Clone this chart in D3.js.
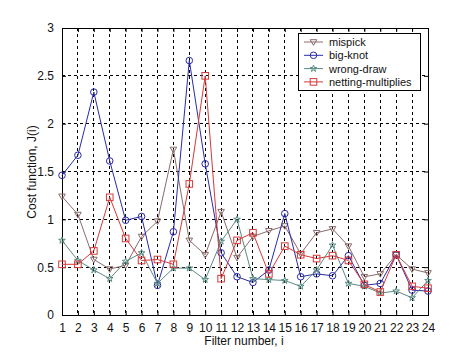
<!DOCTYPE html>
<html><head><meta charset="utf-8">
<script src="https://cdn.jsdelivr.net/npm/d3@7"></script>
<style>body{margin:0;background:#fff}svg{display:block}text{font-family:"Liberation Sans",Arial,sans-serif}</style>
</head><body>
<svg id="c" width="474" height="356"></svg>
<script>
const filters = d3.range(1, 25);
const seriesNames = ["mispick", "big-knot", "wrong-draw", "netting-multiplies"];
const mispick = [1.24,1.05,0.58,0.48,0.52,0.82,0.98,1.73,0.78,0.63,1.08,0.60,0.82,0.88,0.93,0.64,0.86,0.90,0.72,0.40,0.43,0.63,0.48,0.44];
const bigKnot = [1.46,1.67,2.33,1.61,0.99,1.03,0.31,0.87,2.66,1.58,0.65,0.40,0.34,0.47,1.06,0.40,0.43,0.41,0.62,0.31,0.33,0.63,0.26,0.25];
const wrongDraw = [0.78,0.57,0.47,0.38,0.56,0.65,0.33,0.49,0.49,0.37,0.77,1.00,0.38,0.37,0.36,0.30,0.47,0.73,0.33,0.30,0.23,0.25,0.18,0.36];
const netting = [0.53,0.53,0.67,1.23,0.80,0.57,0.58,0.53,1.37,2.50,0.38,0.78,0.86,0.43,0.72,0.63,0.59,0.62,0.57,0.32,0.24,0.63,0.30,0.28];
const yTicks = [0, 0.5, 1, 1.5, 2, 2.5, 3];
const yTickLabels = ["0", "0.5", "1", "1.5", "2", "2.5", "3"];
const xLabel = "Filter number, i";
const yLabel = "Cost function, J(i)";

const series = [
  {name: seriesNames[0], values: mispick, color: "#8a6b6b", marker: "tri"},
  {name: seriesNames[1], values: bigKnot, color: "#2a2aa8", marker: "circle"},
  {name: seriesNames[2], values: wrongDraw, color: "#5b8c84", marker: "star"},
  {name: seriesNames[3], values: netting, color: "#d43a3a", marker: "square"}
];

const svg = d3.select("#c");
const L = 62, R = 428, T = 28, B = 315;
const x = d3.scaleLinear().domain([1, 24]).range([L, R]);
const y = d3.scaleLinear().domain([0, 3]).range([B, T]);

// grid
const g = svg.append("g");
g.selectAll(".gx").data(filters.slice(1, -1)).join("line")
  .attr("x1", d => x(d)).attr("x2", d => x(d)).attr("y1", T).attr("y2", B)
  .attr("stroke", "#000").attr("stroke-width", 1).attr("stroke-dasharray", "3,3").attr("shape-rendering","crispEdges");
g.selectAll(".gy").data(yTicks.slice(1, -1)).join("line")
  .attr("y1", d => y(d)).attr("y2", d => y(d)).attr("x1", L).attr("x2", R)
  .attr("stroke", "#000").attr("stroke-width", 1).attr("stroke-dasharray", "3,3").attr("shape-rendering","crispEdges");

// axes
const axL = d3.axisLeft(y).tickValues(yTicks).tickFormat((d, i) => yTickLabels[i]).tickSizeInner(-4).tickSizeOuter(0).tickPadding(8);
const axB = d3.axisBottom(x).tickValues(filters).tickFormat(d3.format("d")).tickSizeInner(-4).tickSizeOuter(0).tickPadding(8);
const axR = d3.axisRight(y).tickValues(yTicks).tickFormat("").tickSizeInner(-4).tickSizeOuter(0);
const axT = d3.axisTop(x).tickValues(filters).tickFormat("").tickSizeInner(-4).tickSizeOuter(0);
[[axL, `translate(${L},0)`], [axB, `translate(0,${B})`], [axR, `translate(${R},0)`], [axT, `translate(0,${T})`]].forEach(([a, t]) => {
  const ga = svg.append("g").attr("transform", t).call(a);
  ga.selectAll("text").attr("font-size", 12).attr("fill", "#111").style("font-family", '"Liberation Sans",Arial,sans-serif');
  ga.selectAll("line,path").attr("stroke", "#000");
  ga.select(".domain").remove();
});
svg.append("rect").attr("x", L).attr("y", T).attr("width", R - L).attr("height", B - T)
  .attr("fill", "none").attr("stroke", "#000").attr("stroke-width", 1).attr("shape-rendering","crispEdges");

function drawMarker(sel, m, color) {
  if (m === "circle") sel.append("circle").attr("r", 3.3).attr("fill", "none").attr("stroke", color);
  else if (m === "square") sel.append("rect").attr("x", -3.3).attr("y", -3.3).attr("width", 6.6).attr("height", 6.6).attr("fill", "none").attr("stroke", color);
  else if (m === "tri") sel.append("path").attr("d", "M-3.3,-2.3L3.3,-2.3L0,3.3Z").attr("fill", "none").attr("stroke", color);
  else if (m === "star") sel.append("path").attr("d", d3.symbol(d3.symbolStar, 14)()).attr("fill", "none").attr("stroke", color);
}

const line = d3.line().x((d, i) => x(filters[i])).y(d => y(d));
series.forEach(s => {
  svg.append("path").datum(s.values).attr("d", line).attr("fill", "none").attr("stroke", s.color).attr("stroke-width", 1);
  s.values.forEach((v, i) => {
    const mg = svg.append("g").attr("transform", `translate(${x(filters[i])},${y(v)})`);
    drawMarker(mg, s.marker, s.color);
  });
});

// legend
const lg = svg.append("g");
lg.append("rect").attr("x", 298).attr("y", 33).attr("width", 122).attr("height", 57)
  .attr("fill", "#fff").attr("stroke", "#000").attr("shape-rendering","crispEdges");
series.forEach((s, i) => {
  const yy = 42 + i * 13.3;
  lg.append("line").attr("x1", 304).attr("x2", 323).attr("y1", yy).attr("y2", yy).attr("stroke", s.color);
  drawMarker(lg.append("g").attr("transform", `translate(313.5,${yy})`), s.marker, s.color);
  lg.append("text").attr("x", 329).attr("y", yy + 4).attr("font-size", 11).attr("fill", "#111").text(s.name);
});

svg.append("text").attr("x", 244).attr("y", 345).attr("text-anchor", "middle").attr("font-size", 12).attr("fill", "#111").text(xLabel);
svg.append("text").attr("transform", `translate(36,172) rotate(-90)`).attr("text-anchor", "middle").attr("font-size", 12).attr("fill", "#111").text(yLabel);
</script>
</body></html>
